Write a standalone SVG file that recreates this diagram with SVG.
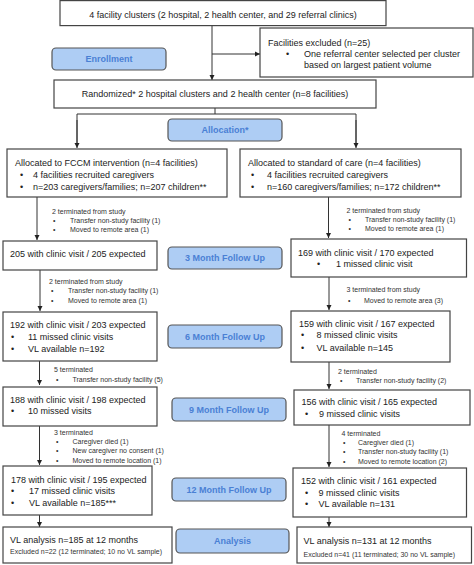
<svg xmlns="http://www.w3.org/2000/svg" width="474" height="565" viewBox="0 0 474 565">
<defs>
<marker id="arr" viewBox="0 0 6 6" refX="6" refY="3" markerWidth="5.5" markerHeight="5.5" markerUnits="userSpaceOnUse" orient="auto">
<path d="M0,0 L6,3 L0,6 Z" fill="#222"/>
</marker>
<style>
.box{fill:#fff;stroke:#444;stroke-width:1.2}
.pill{fill:#aecdf4;stroke:#555;stroke-width:1.2}
.pt{font-family:"Liberation Sans",Arial,sans-serif;font-size:9px;font-weight:bold;fill:#4a80d4;text-anchor:middle}
.t{font-family:"Liberation Sans",Arial,sans-serif;font-size:9px;fill:#222}
.tc{font-family:"Liberation Sans",Arial,sans-serif;font-size:9px;fill:#222;text-anchor:middle}
.s{font-family:"Liberation Sans",Arial,sans-serif;font-size:7px;fill:#333}
.ln{stroke:#333;stroke-width:1;fill:none}
.la{stroke:#333;stroke-width:1;fill:none;marker-end:url(#arr)}
</style>
</defs>
<rect width="474" height="565" fill="#fff"/>

<g id="connectors">
<line class="la" x1="212" y1="26" x2="212" y2="80"/>
<line class="la" x1="212" y1="54" x2="260" y2="54"/>
<line class="ln" x1="215" y1="108" x2="215" y2="114"/>
<polyline class="ln" points="77,143 77,114 356,114 356,143"/>
<line class="la" x1="77" y1="120" x2="77" y2="148"/>
<line class="la" x1="356" y1="120" x2="356" y2="148"/>
<line class="la" x1="37" y1="197" x2="37" y2="240"/>
<line class="la" x1="40" y1="270" x2="40" y2="311"/>
<line class="la" x1="39.5" y1="361" x2="39.5" y2="385"/>
<line class="la" x1="39.5" y1="426" x2="39.5" y2="465"/>
<line class="la" x1="39.5" y1="515" x2="39.5" y2="527"/>
<line class="la" x1="328.5" y1="197" x2="328.5" y2="238"/>
<line class="la" x1="329" y1="277" x2="329" y2="310"/>
<line class="la" x1="329" y1="362" x2="329" y2="389"/>
<line class="la" x1="329" y1="425" x2="329" y2="467"/>
<line class="la" x1="329" y1="517" x2="329" y2="527"/>
</g>

<g id="clusters">
<rect class="box" x="60" y="0.6" width="326" height="25"/>
<text class="tc" x="223" y="18.3">4 facility clusters (2 hospital, 2 health center, and 29 referral clinics)</text>
</g>

<g id="excluded">
<rect class="box" x="260" y="28" width="213" height="49"/>
<text class="t" x="268" y="46">Facilities excluded (n=25)</text>
<text class="t" x="286" y="57">•</text>
<text class="t" x="304" y="57">One referral center selected per cluster</text>
<text class="t" x="304" y="68">based on largest patient volume</text>
</g>

<g id="enrollment">
<rect class="pill" x="52" y="48" width="114" height="22" rx="4"/>
<text class="pt" x="109" y="62.2">Enrollment</text>
</g>

<g id="randomized">
<rect class="box" x="54" y="80" width="322" height="28"/>
<text class="tc" x="215" y="97.3">Randomized* 2 hospital clusters and 2 health center (n=8 facilities)</text>
</g>

<g id="allocation">
<rect class="pill" x="168" y="119" width="114" height="22" rx="4"/>
<text class="pt" x="225" y="133.2">Allocation*</text>
</g>

<g id="alloc-fccm">
<rect class="box" x="7" y="149" width="220" height="48"/>
<text class="t" x="15" y="166">Allocated to FCCM intervention (n=4 facilities)</text>
<text class="t" x="20" y="178">•</text>
<text class="t" x="33" y="178">4 facilities recruited caregivers</text>
<text class="t" x="20" y="190">•</text>
<text class="t" x="33" y="190">n=203 caregivers/families; n=207 children**</text>
</g>

<g id="alloc-soc">
<rect class="box" x="240" y="149" width="221" height="48"/>
<text class="t" x="248" y="166">Allocated to standard of care (n=4 facilities)</text>
<text class="t" x="251" y="178">•</text>
<text class="t" x="267" y="178">4 facilities recruited caregivers</text>
<text class="t" x="251" y="190">•</text>
<text class="t" x="267" y="190">n=160 caregivers/families; n=172 children**</text>
</g>

<g id="ann-l1">
<text class="s" x="52" y="213.5">2 terminated from study</text>
<text class="s" x="53" y="222.5">•</text>
<text class="s" x="70" y="222.5">Transfer non-study facility (1)</text>
<text class="s" x="53" y="231.5">•</text>
<text class="s" x="70" y="231.5">Moved to remote area (1)</text>
</g>

<g id="ann-r1">
<text class="s" x="346.5" y="212.5">2 terminated from study</text>
<text class="s" x="348.5" y="221.8">•</text>
<text class="s" x="365" y="221.8">Transfer non-study facility (1)</text>
<text class="s" x="348.5" y="230.8">•</text>
<text class="s" x="365" y="230.8">Moved to remote area (1)</text>
</g>

<g id="l-3m">
<rect class="box" x="3" y="241" width="154" height="29"/>
<text class="t" x="10" y="257.3">205 with clinic visit / 205 expected</text>
</g>

<g id="p-3m">
<rect class="pill" x="168" y="247" width="114" height="22" rx="4"/>
<text class="pt" x="225" y="261.2">3 Month Follow Up</text>
</g>

<g id="r-3m">
<rect class="box" x="291" y="239" width="175.5" height="38"/>
<text class="t" x="298" y="255.5">169 with clinic visit / 170 expected</text>
<text class="t" x="317" y="266.5">•</text>
<text class="t" x="336" y="266.5">1 missed clinic visit</text>
</g>

<g id="ann-l2">
<text class="s" x="49" y="284">2 terminated from study</text>
<text class="s" x="51" y="293">•</text>
<text class="s" x="68" y="293">Transfer non-study facility (1)</text>
<text class="s" x="51" y="302.5">•</text>
<text class="s" x="68" y="302.5">Moved to remote area (1)</text>
</g>

<g id="ann-r2">
<text class="s" x="346.5" y="291.8">3 terminated from study</text>
<text class="s" x="348" y="302.5">•</text>
<text class="s" x="364" y="302.5">Moved to remote area (3)</text>
</g>

<g id="l-6m">
<rect class="box" x="3" y="312" width="154" height="49"/>
<text class="t" x="10" y="327.5">192 with clinic visit / 203 expected</text>
<text class="t" x="11" y="340">•</text>
<text class="t" x="28" y="340">11 missed clinic visits</text>
<text class="t" x="11" y="351.5">•</text>
<text class="t" x="28" y="351.5">VL available n=192</text>
</g>

<g id="p-6m">
<rect class="pill" x="168" y="325" width="114" height="23" rx="4"/>
<text class="pt" x="225" y="339.7">6 Month Follow Up</text>
</g>

<g id="r-6m">
<rect class="box" x="291" y="311" width="159" height="51"/>
<text class="t" x="299" y="326.5">159 with clinic visit / 167 expected</text>
<text class="t" x="301" y="338">•</text>
<text class="t" x="316.5" y="338">8 missed clinic visits</text>
<text class="t" x="301" y="350.5">•</text>
<text class="t" x="316.5" y="350.5">VL available n=145</text>
</g>

<g id="ann-l3">
<text class="s" x="54" y="372">5 terminated</text>
<text class="s" x="56" y="382">•</text>
<text class="s" x="72.5" y="382">Transfer non-study facility (5)</text>
</g>

<g id="ann-r3">
<text class="s" x="338" y="373.5">2 terminated</text>
<text class="s" x="340" y="383.2">•</text>
<text class="s" x="356" y="383.2">Transfer non-study facility (2)</text>
</g>

<g id="l-9m">
<rect class="box" x="3" y="387" width="154" height="39"/>
<text class="t" x="10" y="402.5">188 with clinic visit / 198 expected</text>
<text class="t" x="11" y="414">•</text>
<text class="t" x="28" y="414">10 missed visits</text>
</g>

<g id="p-9m">
<rect class="pill" x="172" y="398" width="114" height="23" rx="4"/>
<text class="pt" x="229" y="412.7">9 Month Follow Up</text>
</g>

<g id="r-9m">
<rect class="box" x="294" y="390" width="176" height="35"/>
<text class="t" x="301.5" y="404.5">156 with clinic visit / 165 expected</text>
<text class="t" x="305" y="416.5">•</text>
<text class="t" x="319" y="416.5">9 missed clinic visits</text>
</g>

<g id="ann-l4">
<text class="s" x="54" y="435">3 terminated</text>
<text class="s" x="56" y="444">•</text>
<text class="s" x="72.5" y="444">Caregiver died (1)</text>
<text class="s" x="56" y="453">•</text>
<text class="s" x="72.5" y="453">New caregiver no consent (1)</text>
<text class="s" x="56" y="462.5">•</text>
<text class="s" x="72.5" y="462.5">Moved to remote location (1)</text>
</g>

<g id="ann-r4">
<text class="s" x="341.5" y="435.8">4 terminated</text>
<text class="s" x="343" y="444.8">•</text>
<text class="s" x="358" y="444.8">Caregiver died (1)</text>
<text class="s" x="343" y="454.2">•</text>
<text class="s" x="358" y="454.2">Transfer non-study facility (1)</text>
<text class="s" x="343" y="463.5">•</text>
<text class="s" x="358" y="463.5">Moved to remote location (2)</text>
</g>

<g id="l-12m">
<rect class="box" x="3" y="466" width="149" height="49"/>
<text class="t" x="11" y="483">178 with clinic visit / 195 expected</text>
<text class="t" x="11" y="494">•</text>
<text class="t" x="29" y="494">17 missed clinic visits</text>
<text class="t" x="11" y="505.5">•</text>
<text class="t" x="29" y="505.5">VL available n=185***</text>
</g>

<g id="p-12m">
<rect class="pill" x="172" y="478" width="114" height="23" rx="4"/>
<text class="pt" x="229" y="492.7">12 Month Follow Up</text>
</g>

<g id="r-12m">
<rect class="box" x="293" y="468" width="173.5" height="49"/>
<text class="t" x="301" y="484.2">152 with clinic visit / 161 expected</text>
<text class="t" x="305" y="495.5">•</text>
<text class="t" x="318.5" y="495.5">9 missed clinic visits</text>
<text class="t" x="305" y="507">•</text>
<text class="t" x="318.5" y="507">VL available n=131</text>
</g>

<g id="l-analysis">
<rect class="box" x="3" y="527" width="169" height="36"/>
<text class="t" x="10" y="543">VL analysis n=185 at 12 months</text>
<text class="s" x="10" y="553.8">Excluded n=22 (12 terminated; 10 no VL sample)</text>
</g>

<g id="p-analysis">
<rect class="pill" x="176" y="529" width="113" height="24" rx="4"/>
<text class="pt" x="232.5" y="544.2">Analysis</text>
</g>

<g id="r-analysis">
<rect class="box" x="297" y="527" width="174.5" height="36"/>
<text class="t" x="303.5" y="544">VL analysis n=131 at 12 months</text>
<text class="s" x="303.5" y="556.5">Excluded n=41 (11 terminated; 30 no VL sample)</text>
</g>
</svg>
